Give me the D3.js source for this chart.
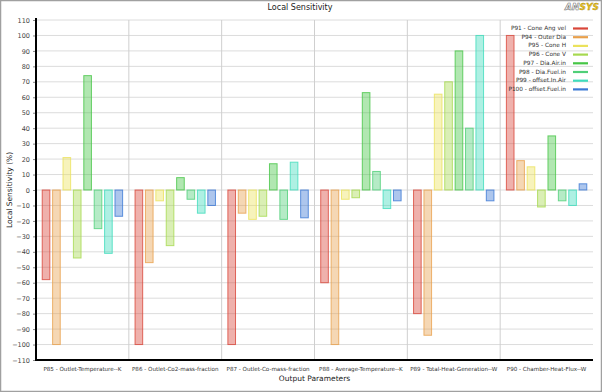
<!DOCTYPE html>
<html lang="en">
<head>
    <meta charset="UTF-8">
    <script src="https://cdn.jsdelivr.net/npm/d3@7"></script>
    <title>Local Sensitivity</title>
    <style>
        body { margin: 0; background: #fff; }
        text { font-family: "DejaVu Sans", sans-serif; }
    </style>
</head>
<body>
    <svg></svg>
    <script>
        const width = 602, height = 392;

        const outputs = ['P85 - Outlet-Temperature--K', 'P86 - Outlet-Co2-mass-fraction', 'P87 - Outlet-Co-mass-fraction',
            'P88 - Average-Temperature--K', 'P89 - Total-Heat-Generation--W', 'P90 - Chamber-Heat-Flux--W'];
        const inputs = ['P91 - Cone Ang vel', 'P94 - Outer Dia', 'P95 - Cone H', 'P96 - Cone V',
            'P97 - Dia.Air.in', 'P98 - Dia.Fuel.in', 'P99 - offset.In.Air', 'P100 - offset.Fuel.in'];
        const colors = ['#d9463a', '#e8a04c', '#ebe25c', '#a6d94f', '#46c646', '#4fcf78', '#3fdcbc', '#3b78d4'];

        // one array per input parameter, values per output parameter (%)
        const p91 = [-58, -100, -100, -60, -80, 100];
        const p94 = [-100, -47, -15, -100, -94, 19];
        const p95 = [21, -7, -19, -6, 62, 15];
        const p96 = [-44, -36, -17, -5, 70, -11];
        const p97 = [74, 8, 17, 63, 90, 35];
        const p98 = [-25, -6, -19, 12, 40, -7];
        const p99 = [-41, -15, 18, -12, 100, -10];
        const p100 = [-17, -10, -18, -7, -7, 4];
        const series = [p91, p94, p95, p96, p97, p98, p99, p100];

        const yTicks = d3.range(-110, 111, 10);

        const svg = d3.select('svg').attr('width', width).attr('height', height);

        // outer frame
        svg.append('rect').attr('x', 0.5).attr('y', 0.5).attr('width', width - 1).attr('height', height - 1)
            .attr('fill', '#fff').attr('stroke', '#a0a0a0').attr('stroke-width', 1.5);

        const m = { left: 36, right: 593, top: 20, bottom: 360 };

        const x = d3.scaleBand().domain(outputs).range([m.left, m.right]);
        const xi = d3.scaleBand().domain(inputs).range([0, x.bandwidth()]).paddingInner(0.17).paddingOuter(0.55);
        const y = d3.scaleLinear().domain([-110, 110]).range([m.bottom, m.top]);

        // horizontal grid
        svg.append('g').selectAll('line').data(yTicks.filter(d => d !== -110)).join('line')
            .attr('x1', m.left).attr('x2', m.right)
            .attr('y1', d => y(d)).attr('y2', d => y(d))
            .attr('stroke', '#dcdcdc').attr('stroke-width', 1);

        // vertical group separators
        svg.append('g').selectAll('line').data(outputs.slice(1)).join('line')
            .attr('x1', d => x(d)).attr('x2', d => x(d))
            .attr('y1', m.top).attr('y2', m.bottom)
            .attr('stroke', '#cfcfcf').attr('stroke-width', 1);

        // bars
        const groups = svg.append('g').selectAll('g').data(outputs).join('g')
            .attr('transform', d => `translate(${x(d)},0)`);
        groups.selectAll('rect')
            .data((d, j) => inputs.map((name, i) => ({ name, i, v: series[i][j] })))
            .join('rect')
            .attr('x', d => xi(d.name) + 0.5)
            .attr('width', xi.bandwidth() - 1)
            .attr('y', d => Math.min(y(d.v), y(0)))
            .attr('height', d => Math.abs(y(d.v) - y(0)))
            .attr('fill', d => colors[d.i]).attr('fill-opacity', 0.42)
            .attr('stroke', d => colors[d.i]).attr('stroke-opacity', 0.8).attr('stroke-width', 1);

        // y axis
        const yAxis = svg.append('g').attr('transform', `translate(${m.left},0)`)
            .call(d3.axisLeft(y).tickValues(yTicks).tickSize(3).tickPadding(3));
        yAxis.select('.domain').remove();
        yAxis.selectAll('.tick line').attr('stroke', '#888');
        yAxis.selectAll('text').attr('font-size', 6.5).attr('fill', '#444');

        // x axis
        const xAxis = svg.append('g').attr('transform', `translate(0,${m.bottom})`)
            .call(d3.axisBottom(x).tickSize(0).tickPadding(7));
        xAxis.select('.domain').remove();
        xAxis.selectAll('text').attr('font-size', 5.6).attr('fill', '#333');

        svg.append('line').attr('x1', m.left).attr('x2', m.left).attr('y1', m.top - 2).attr('y2', m.bottom + 1)
            .attr('stroke', '#000').attr('stroke-width', 2);
        svg.append('line').attr('x1', m.left - 1).attr('x2', m.right).attr('y1', m.bottom).attr('y2', m.bottom)
            .attr('stroke', '#000').attr('stroke-width', 2);

        // titles
        svg.append('text').attr('x', 300).attr('y', 10).attr('text-anchor', 'middle')
            .attr('font-size', 8).attr('fill', '#222').text('Local Sensitivity');
        svg.append('text').attr('x', (m.left + m.right) / 2).attr('y', 381).attr('text-anchor', 'middle')
            .attr('font-size', 7.5).attr('fill', '#222').text('Output Parameters');
        svg.append('text').attr('transform', `translate(12,${(m.top + m.bottom) / 2}) rotate(-90)`)
            .attr('text-anchor', 'middle').attr('font-size', 7.5).attr('fill', '#222').text('Local Sensitivity (%)');

        // ANSYS logo
        const logo = svg.append('text').attr('x', 599).attr('y', 10).attr('text-anchor', 'end')
            .attr('font-size', 9).attr('font-weight', 'bold').attr('font-style', 'italic');
        logo.append('tspan').attr('fill', '#fff').attr('stroke', '#777').attr('stroke-width', 0.6).text('AN');
        logo.append('tspan').attr('fill', '#e8c020').attr('stroke', '#a08010').attr('stroke-width', 0.3).text('SYS');

        // legend
        const legend = svg.append('g').selectAll('g').data(inputs).join('g')
            .attr('transform', (d, i) => `translate(0,${28 + i * 8.7})`);
        legend.append('text').attr('x', 566).attr('y', 2).attr('text-anchor', 'end')
            .attr('font-size', 5.8).attr('fill', '#333').text(d => d);
        legend.append('line').attr('x1', 573).attr('x2', 588).attr('y1', 0.5).attr('y2', 0.5)
            .attr('stroke', (d, i) => colors[i]).attr('stroke-width', 2.2);
    </script>
</body>
</html>
